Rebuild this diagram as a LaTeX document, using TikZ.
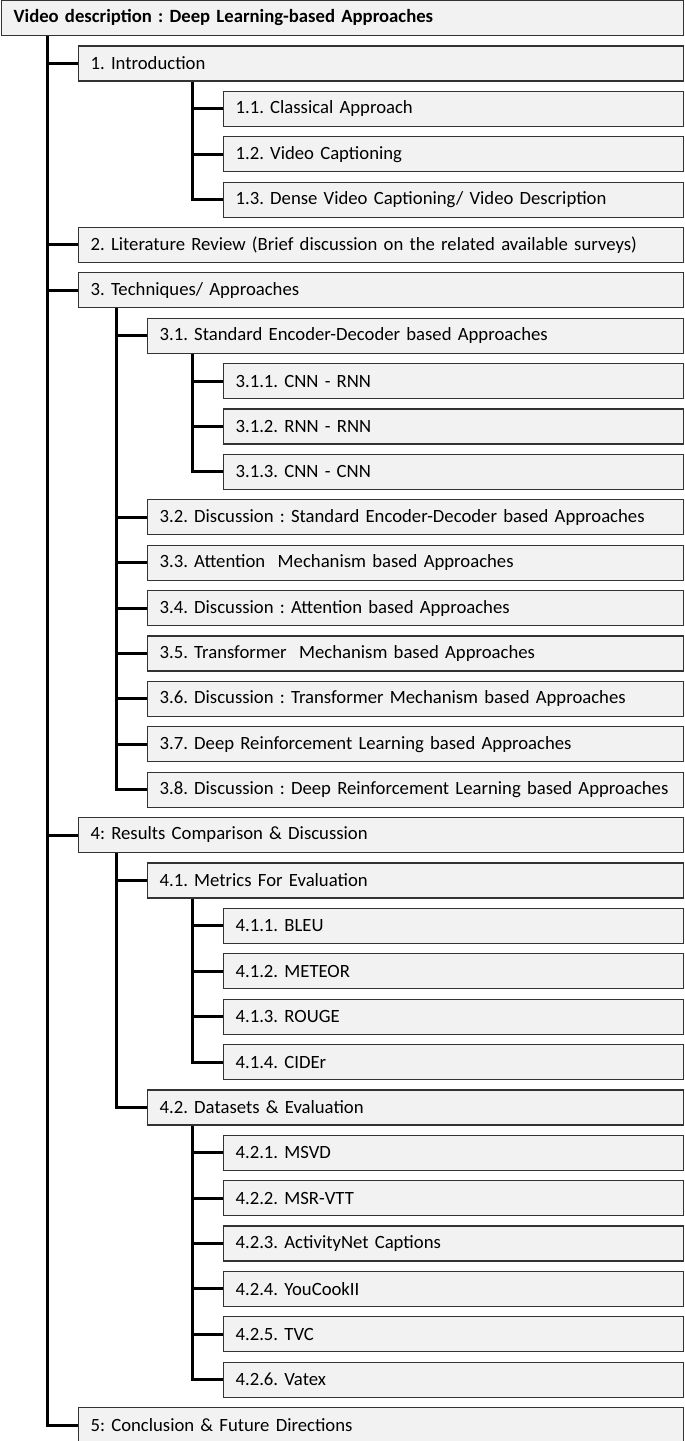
\documentclass[tikz,border=0pt]{standalone}
\usepackage{fontspec}
\setmainfont{Carlito}
\usetikzlibrary{backgrounds}
\frenchspacing

\tikzset{
	box/.style={draw=black!80, line width=1.2pt, fill=black!5, minimum height=35pt,
		anchor=west, inner xsep=12pt, align=left, font=\fontsize{18.7}{20}\selectfont},
	lvlroot/.style={box, text width=658pt, font=\fontsize{18.7}{20}\selectfont\bfseries},
	lvlone/.style={box, text width=581pt},
	lvltwo/.style={box, text width=512pt},
	lvlthree/.style={box, text width=436pt},
	link/.style={line width=3pt, black}
}

\begin{document}
\begin{tikzpicture}[x=1pt, y=-1pt]
\useasboundingbox (0,0) rectangle (685,1441);

% El titol
\node [lvlroot] (root) at (1, 18.0) {Video description : Deep Learning-based Approaches};
%%%%%%%%%%%%%%%%%%%%%%%%%%%%%%%%%%%%%%%%%%%%%%%%%%%%%%%%%%%%%%%%%%%%%%%%%%%%%%%%
\node [lvlone]   (Intro)      at (78, 63.4)   {1. Introduction};
\node [lvlthree] (Classical)  at (223, 108.8) {1.1. Classical Approach};
\node [lvlthree] (Captioning) at (223, 154.2) {1.2. Video Captioning};
\node [lvlthree] (Dense)      at (223, 199.6) {1.3. Dense Video Captioning/ Video Description};
%%%%%%%%%%%%%%%%%%%%%%%%%%%%%%%%%%%%%%%%%%%%%%%%%%%%%%%%%%%%%%%%%%%%%%%%%%%%%%%%
\node [lvlone]   (Review)     at (78, 244.9)  {2. Literature Review (Brief discussion on the related available surveys)};
%%%%%%%%%%%%%%%%%%%%%%%%%%%%%%%%%%%%%%%%%%%%%%%%%%%%%%%%%%%%%%%%%%%%%%%%%%%%%%%%
\node [lvlone]   (Techniques) at (78, 290.3)  {3. Techniques/ Approaches};
\node [lvltwo]   (EncDec)     at (147, 335.7) {3.1. Standard Encoder-Decoder based Approaches};
\node [lvlthree] (CnnRnn)     at (223, 381.1) {3.1.1. CNN - RNN};
\node [lvlthree] (RnnRnn)     at (223, 426.5) {3.1.2. RNN - RNN};
\node [lvlthree] (CnnCnn)     at (223, 471.9) {3.1.3. CNN - CNN};
\node [lvltwo]   (DiscEncDec) at (147, 517.3) {3.2. Discussion : Standard Encoder-Decoder based Approaches};
\node [lvltwo]   (Attention)  at (147, 562.7) {3.3. Attention\ \ Mechanism based Approaches};
\node [lvltwo]   (DiscAtt)    at (147, 608.1) {3.4. Discussion : Attention based Approaches};
\node [lvltwo]   (Transf)     at (147, 653.5) {3.5. Transformer\ \ Mechanism based Approaches};
\node [lvltwo]   (DiscTransf) at (147, 698.9) {3.6. Discussion : Transformer Mechanism based Approaches};
\node [lvltwo]   (Reinf)      at (147, 744.2) {3.7. Deep Reinforcement Learning based Approaches};
\node [lvltwo]   (DiscReinf)  at (147, 789.6) {3.8. Discussion : Deep Reinforcement Learning based Approaches};
%%%%%%%%%%%%%%%%%%%%%%%%%%%%%%%%%%%%%%%%%%%%%%%%%%%%%%%%%%%%%%%%%%%%%%%%%%%%%%%%
\node [lvlone]   (Results)    at (78, 835.0)  {4: Results Comparison \& Discussion};
\node [lvltwo]   (Metrics)    at (147, 880.4) {4.1. Metrics For Evaluation};
\node [lvlthree] (Bleu)       at (223, 925.8) {4.1.1. BLEU};
\node [lvlthree] (Meteor)     at (223, 971.2) {4.1.2. METEOR};
\node [lvlthree] (Rouge)      at (223, 1016.6) {4.1.3. ROUGE};
\node [lvlthree] (Cider)      at (223, 1062.0) {4.1.4. CIDEr};
\node [lvltwo]   (Datasets)   at (147, 1107.4) {4.2. Datasets \& Evaluation};
\node [lvlthree] (Msvd)       at (223, 1152.8) {4.2.1. MSVD};
\node [lvlthree] (Msr)        at (223, 1198.1) {4.2.2. MSR-VTT};
\node [lvlthree] (Activity)   at (223, 1243.5) {4.2.3. ActivityNet Captions};
\node [lvlthree] (YouCook)    at (223, 1288.9) {4.2.4. YouCookII};
\node [lvlthree] (Tvc)        at (223, 1334.3) {4.2.5. TVC};
\node [lvlthree] (Vatex)      at (223, 1379.7) {4.2.6. Vatex};
%%%%%%%%%%%%%%%%%%%%%%%%%%%%%%%%%%%%%%%%%%%%%%%%%%%%%%%%%%%%%%%%%%%%%%%%%%%%%%%%
\node [lvlone]   (Conclusion) at (78, 1425.1) {5: Conclusion \& Future Directions};

%%%%%%%%%%%%%%%%%%%%%%%%%%%%%%%%%%%%%%%%%%%%%%%%%%%%%%%%%%%%%%%%%%%%%%%%%%%%%%%%
% Connexions
%%%%%%%%%%%%%%%%%%%%%%%%%%%%%%%%%%%%%%%%%%%%%%%%%%%%%%%%%%%%%%%%%%%%%%%%%%%%%%%%
\begin{pgfonlayer}{background}
\foreach \c in {Intro, Review, Techniques, Results, Conclusion}
	\draw [link] (\c.west) -| ([xshift=-31pt]\c.west |- root.south);
\foreach \c in {Classical, Captioning, Dense}
	\draw [link] (\c.west) -| ([xshift=-31pt]\c.west |- Intro.south);
\foreach \c in {EncDec, DiscEncDec, Attention, DiscAtt, Transf, DiscTransf, Reinf, DiscReinf}
	\draw [link] (\c.west) -| ([xshift=-31pt]\c.west |- Techniques.south);
\foreach \c in {CnnRnn, RnnRnn, CnnCnn}
	\draw [link] (\c.west) -| ([xshift=-31pt]\c.west |- EncDec.south);
\foreach \c in {Metrics, Datasets}
	\draw [link] (\c.west) -| ([xshift=-31pt]\c.west |- Results.south);
\foreach \c in {Bleu, Meteor, Rouge, Cider}
	\draw [link] (\c.west) -| ([xshift=-31pt]\c.west |- Metrics.south);
\foreach \c in {Msvd, Msr, Activity, YouCook, Tvc, Vatex}
	\draw [link] (\c.west) -| ([xshift=-31pt]\c.west |- Datasets.south);
\end{pgfonlayer}

\end{tikzpicture}
\end{document}
